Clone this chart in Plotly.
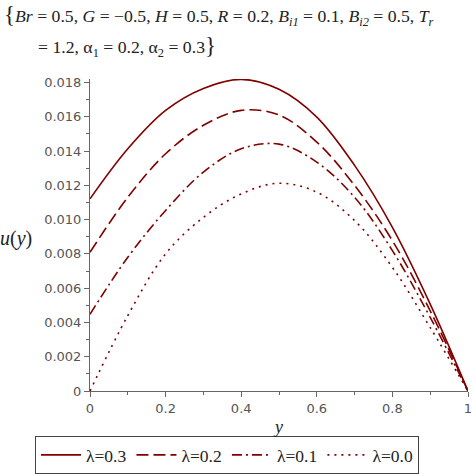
import plotly.graph_objects as go

y_vals = [0.0, 0.1, 0.2, 0.3, 0.4, 0.5, 0.6, 0.7, 0.8, 0.9, 1.0]
u_l03 = [0.01121, 0.01413, 0.01637, 0.01765, 0.01818, 0.01760, 0.01598, 0.01316, 0.00955, 0.00507, 0.0]
u_l02 = [0.00809, 0.01130, 0.01384, 0.01550, 0.01637, 0.01610, 0.01452, 0.01199, 0.00877, 0.00468, 0.0]
u_l01 = [0.00448, 0.00780, 0.01053, 0.01277, 0.01413, 0.01440, 0.01335, 0.01130, 0.00819, 0.00429, 0.0]
u_l00 = [0.0, 0.00440, 0.00800, 0.01013, 0.01150, 0.01212, 0.01160, 0.00994, 0.00721, 0.00370, 0.0]
labels = ["λ=0.3", "λ=0.2", "λ=0.1", "λ=0.0"]

y_ticks = [0, 0.002, 0.004, 0.006, 0.008, 0.010, 0.012, 0.014, 0.016, 0.018]
y_ticktext = ["0", "0.002", "0.004", "0.006", "0.008", "0.010", "0.012", "0.014", "0.016", "0.018"]
x_ticks = [0, 0.2, 0.4, 0.6, 0.8, 1.0]
x_ticktext = ["0", "0.2", "0.4", "0.6", "0.8", "1"]

color = "#800000"
dashes = ["solid", "12px,5px", "10px,4px,2px,4px", "2px,5px"]
series = [u_l03, u_l02, u_l01, u_l00]

fig = go.Figure()
for lab, s, d in zip(labels, series, dashes):
    fig.add_trace(go.Scatter(x=y_vals, y=s, mode="lines", name=lab,
                             line=dict(color=color, width=1.6, dash=d, shape="spline")))

axis_font = dict(family="DejaVu Sans", size=13, color="#555555")
fig.update_layout(
    width=474, height=474,
    margin=dict(l=90, r=2, t=79, b=83),
    plot_bgcolor="white", paper_bgcolor="white",
    showlegend=True,
    legend=dict(orientation="h", xref="container", x=0.0738, xanchor="left",
                yref="container", y=0.040, yanchor="middle",
                bordercolor="#444444", borderwidth=1,
                font=dict(family="Liberation Serif", size=17.5, color="#222222"),
                itemwidth=40, tracegroupgap=0),
    xaxis=dict(range=[0, 1], tickvals=x_ticks, ticktext=x_ticktext, showgrid=False, zeroline=False,
               showline=True, linecolor="#666666", linewidth=1, ticks="outside", ticklen=5,
               tickcolor="#666666", tickfont=axis_font, ticklabeloverflow="allow",
               minor=dict(dtick=0.1, ticks="outside", ticklen=3, tickcolor="#666666")),
    yaxis=dict(range=[0, 0.0182], tickvals=y_ticks, ticktext=y_ticktext, showgrid=False, zeroline=False,
               showline=True, linecolor="#666666", linewidth=1, ticks="outside", ticklen=5,
               tickcolor="#666666", tickfont=axis_font,
               minor=dict(dtick=0.001, ticks="outside", ticklen=3, tickcolor="#666666")),
)

serif = dict(family="Liberation Serif", size=17.7, color="#222222")
line1 = ("<span style='font-size:23px'>{</span><i>Br</i> = 0.5, <i>G</i> = −0.5, <i>H</i> = 0.5, <i>R</i> = 0.2, "
         "<i>B<sub>i1</sub></i> = 0.1, <i>B<sub>i2</sub></i> = 0.5, <i>T<sub>r</sub></i>")
line2 = "= 1.2, α<sub>1</sub> = 0.2, α<sub>2</sub> = 0.3<span style='font-size:23px'>}</span>"
fig.add_annotation(text=line1, xref="paper", yref="paper", x=-0.2330, y=1.205,
                   xanchor="left", yanchor="middle", showarrow=False, font=serif)
fig.add_annotation(text=line2, xref="paper", yref="paper", x=-0.1440, y=1.1026,
                   xanchor="left", yanchor="middle", showarrow=False, font=serif)
fig.add_annotation(text="<i>u</i>(<i>y</i>)", xref="paper", yref="paper", x=-0.149, y=0.49,
                   xanchor="right", yanchor="middle", showarrow=False,
                   font=dict(family="Liberation Serif", size=20, color="#222222"))
fig.add_annotation(text="<i>y</i>", xref="paper", yref="paper", x=0.497, y=-0.115,
                   xanchor="center", yanchor="middle", showarrow=False,
                   font=dict(family="Liberation Serif", size=18, color="#222222"))

fig.write_html("out.html", config={"displayModeBar": False},
               post_script="document.body.style.margin='0px';")
